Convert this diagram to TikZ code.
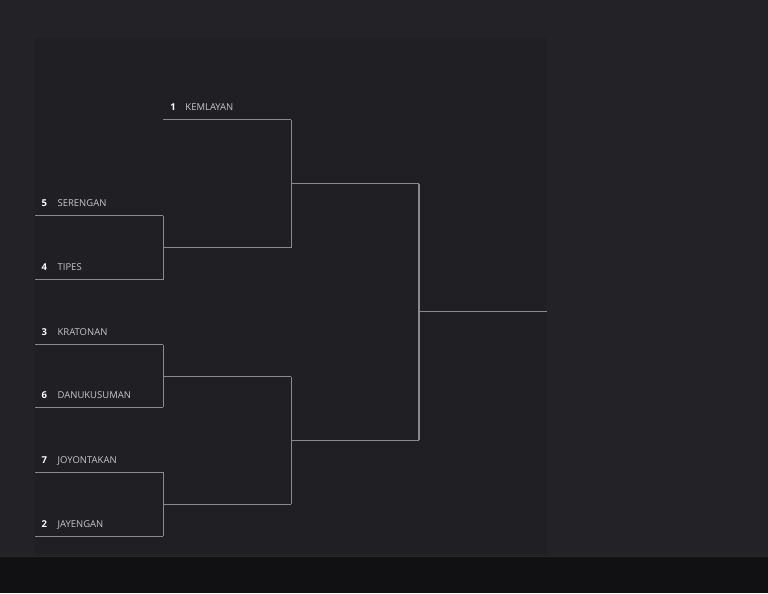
\documentclass[tikz,border=0pt]{standalone}
\usepackage{fontspec}
\setmainfont{Open Sans}
\definecolor{bg}{HTML}{232327}
\definecolor{panel}{HTML}{202024}
\definecolor{foot}{HTML}{111113}
\definecolor{ln}{HTML}{8A8A8E}
\definecolor{txt}{HTML}{C8C8CC}
\begin{document}
\begin{tikzpicture}[x=1pt,y=-1pt,
  br/.style={draw=ln,line width=1.1pt},
  seed/.style={anchor=base west,inner sep=0pt,font=\fontsize{9.5}{11}\selectfont\bfseries,text=white},
  team/.style={anchor=base west,inner sep=0pt,font=\fontsize{9.5}{11}\selectfont,text=txt}]
\fill[bg] (0,0) rectangle (768,594);
\fill[panel] (35,38) rectangle (547,555);
\fill[foot] (0,557) rectangle (768,594);
\draw[line width=1pt,draw=black!70!gray] (0,557) -- (768,557);
% round 1 slots
\foreach \n/\x/\y in {a/163/120,b/35/216,c/35/280,d/35/345,e/35/408,f/35/473,g/35/537}{
  \coordinate (\n0) at (\x,\y);}
\foreach \n/\y in {b/216,c/280,d/345,e/408,f/473,g/537}{
  \coordinate (\n1) at (163,\y);}
\coordinate (a1) at (291,120);
\foreach \n in {a,b,c,d,e,f,g}{\draw[br] (\n0) -- (\n1);}
\coordinate (bc) at (163,248); \coordinate (bc2) at (291,248);
\coordinate (de) at (163,377); \coordinate (de2) at (291,377);
\coordinate (fg) at (163,505); \coordinate (fg2) at (291,505);
\draw[br] (b1) -- (c1); \draw[br] (bc) -- (bc2);
\draw[br] (d1) -- (e1); \draw[br] (de) -- (de2);
\draw[br] (f1) -- (g1); \draw[br] (fg) -- (fg2);
\coordinate (ab) at (291,184); \coordinate (ab2) at (419,184);
\coordinate (dg) at (291,441); \coordinate (dg2) at (419,441);
\draw[br] (a1) -- (bc2); \draw[br] (ab) -- (ab2);
\draw[br] (de2) -- (fg2); \draw[br] (dg) -- (dg2);
\coordinate (fin) at (419,312); \coordinate (win) at (547,312);
\draw[br] (ab2) -- (dg2); \draw[br] (fin) -- (win);
% labels
\node[seed] (s1) at (170,111) {1}; \node[team] (t1) at (185,111) {KEMLAYAN};
\node[seed] (s5) at (41,207) {5}; \node[team] (t5) at (57,207) {SERENGAN};
\node[seed] (s4) at (41,271) {4}; \node[team] (t4) at (57,271) {TIPES};
\node[seed] (s3) at (41,336) {3}; \node[team] (t3) at (57,336) {KRATONAN};
\node[seed] (s6) at (41,399) {6}; \node[team] (t6) at (57,399) {DANUKUSUMAN};
\node[seed] (s7) at (41,464) {7}; \node[team] (t7) at (57,464) {JOYONTAKAN};
\node[seed] (s2) at (41,528) {2}; \node[team] (t2) at (57,528) {JAYENGAN};
\end{tikzpicture}
\end{document}
